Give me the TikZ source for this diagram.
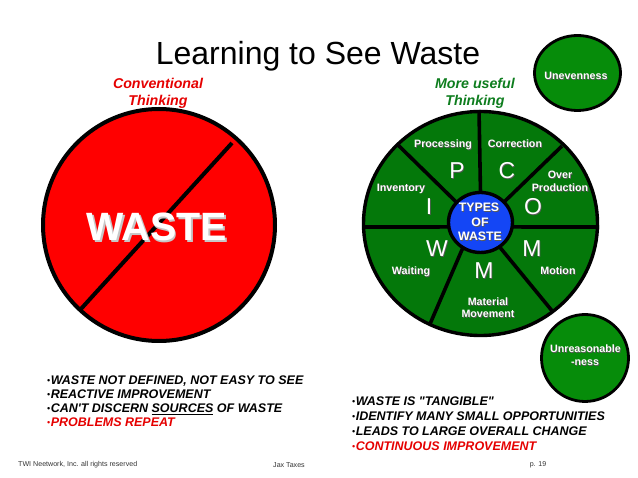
\documentclass[tikz,border=0pt]{standalone}
\usepackage{fontspec}
\usepackage{tikz}
\usetikzlibrary{shapes.geometric}
\setmainfont{Liberation Sans}
\newfontfamily\rawfont{Liberation Sans}
\definecolor{wheelgreen}{RGB}{4,120,10}
\definecolor{budgreen}{RGB}{6,140,10}
\definecolor{headgreen}{RGB}{14,125,30}
\definecolor{hubblue}{RGB}{20,70,245}
\newcommand{\sh}[1]{\rlap{\kern.8pt\raisebox{-.8pt}{\textcolor{black!65}{#1}}}#1}
\newcommand{\shw}[1]{\rlap{\kern1.4pt\raisebox{-1.4pt}{\textcolor{black!22}{#1}}}#1}
\newcommand{\px}[1]{\fontsize{#1}{#1}\selectfont}
\newcommand{\blt}{\raisebox{1pt}{\px{8.5}\textbullet}\kern.6pt}
\tikzset{
  disc/.style={ellipse,draw=black,line width=3.4pt,inner sep=0pt,outer sep=0pt},
  lab/.style={text=white,font=\px{10.7}\bfseries,inner sep=0pt},
  big/.style={text=white,font=\px{23},inner sep=0pt},
  hubtxt/.style={text=white,font=\px{12.3}\bfseries,inner sep=0pt},
  head/.style={font=\px{14.2}\bfseries\itshape,align=center,inner sep=0pt},
  pts/.style={font=\px{12.5}\rawfont\bfseries\itshape,align=left,anchor=north west,inner sep=0pt},
  foot/.style={font=\px{7.1},text=black!80,inner sep=0pt}
}

\begin{document}
\begin{tikzpicture}[x=1pt,y=-1pt]
  \useasboundingbox (0,0) rectangle (638,478);
  \node (title) at (318,56) [font=\px{32},inner sep=0pt] {Learning to See Waste};

  % left side
  \node (conv) at (158,93) [head,text=red!90!black] {Conventional\\[2.5pt]Thinking};
  \node (redc) at (159,225) [disc,fill=red,line width=4pt,minimum width=232pt,minimum height=232pt] {};
  \coordinate (s1) at (232,143);
  \coordinate (s2) at (80,310);
  \draw[line width=4pt] (s1) -- (s2);
  \node (waste) at (157,228) [text=white,font=\px{39.5}\bfseries,inner sep=0pt] {\shw{WASTE}};
  \node (ptsl) at (47,375.5) [pts] {\blt WASTE NOT DEFINED, NOT EASY TO SEE\\[1.6pt]
    \blt REACTIVE IMPROVEMENT\\[1.6pt]
    \blt CAN'T DISCERN \underline{SOURCES} OF WASTE\\[1.6pt]
    \textcolor{red!90!black}{\blt PROBLEMS REPEAT}};

  % right side
  \node (more) at (475,93) [head,text=headgreen] {More useful\\[2.5pt]Thinking};
  \node (wheel) at (480.5,223.5) [disc,fill=wheelgreen,minimum width=234pt,minimum height=224pt] {};
  \node (hub) at (480.5,222.5) [disc,fill=hubblue,minimum width=64pt,minimum height=60pt] {};
  \coordinate (a1) at (479,110);
  \coordinate (a2) at (398,145);
  \coordinate (a3) at (562,146);
  \coordinate (a4) at (362,227);
  \coordinate (a5) at (599,227);
  \coordinate (a6) at (430,324);
  \coordinate (a7) at (553,312);
  \foreach \from/\to in {a1/90,a2/140,a3/41,a4/188,a5/-8,a6/235,a7/-52}
    \draw[line width=3.6pt] (\from) -- (hub.\to);

  \node (tl1) at (479,208) [hubtxt] {\sh{TYPES}};
  \node (tl2) at (480,223) [hubtxt] {\sh{OF}};
  \node (tl3) at (480,237) [hubtxt] {\sh{WASTE}};

  \node (n1) at (443,145) [lab] {\sh{Processing}};
  \node (n2) at (515,144) [lab] {\sh{Correction}};
  \node (n3) at (560,175) [lab] {\sh{Over}};
  \node (n4) at (560,188) [lab] {\sh{Production}};
  \node (n5) at (401,189) [lab] {\sh{Inventory}};
  \node (n6) at (411,272) [lab] {\sh{Waiting}};
  \node (n7) at (558,271) [lab] {\sh{Motion}};
  \node (n8) at (488,302) [lab] {\sh{Material}};
  \node (n9) at (488,314) [lab] {\sh{Movement}};

  \node (lp) at (457,171) [big] {\sh{P}};
  \node (lc) at (507,171) [big] {\sh{C}};
  \node (li) at (429,207) [big] {\sh{I}};
  \node (lo) at (533,207) [big] {\sh{O}};
  \node (lw) at (437,249) [big] {\sh{W}};
  \node (lm) at (532,249) [big] {\sh{M}};
  \node (lv) at (484,271) [big] {\sh{M}};

  \node (even) at (577.5,73) [disc,fill=budgreen,line width=2.8pt,minimum width=86pt,minimum height=75pt] {};
  \node (evtx) at (576,76) [lab] {\sh{Unevenness}};
  \node (reas) at (585,358) [disc,fill=budgreen,line width=2.8pt,minimum width=87pt,minimum height=87pt] {};
  \node (rs1) at (585.5,349) [lab] {\sh{Unreasonable}};
  \node (rs2) at (585,363) [lab] {\sh{-ness}};
  \node (ptsr) at (352,397) [pts] {\blt WASTE IS "TANGIBLE"\\[2.2pt]
    \blt IDENTIFY MANY SMALL OPPORTUNITIES\\[2.2pt]
    \blt LEADS TO LARGE OVERALL CHANGE\\[2.2pt]
    \textcolor{red!90!black}{\blt CONTINUOUS IMPROVEMENT}};

  % footer
  \node (f1) at (18,465) [foot,anchor=west] {TWI Neetwork, Inc. all rights reserved};
  \node (f2) at (289,465) [foot] {Jax Taxes};
  \node (f3) at (538,465) [foot] {p. 19};
\end{tikzpicture}
\end{document}
